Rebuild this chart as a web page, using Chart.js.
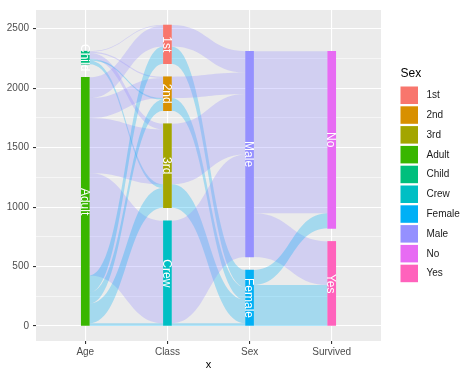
<!DOCTYPE html>
<html>
<head>
<meta charset="utf-8">
<script src="https://cdn.jsdelivr.net/npm/chart.js@4.4.1/dist/chart.umd.min.js"></script>
<style>
  html, body { margin: 0; padding: 0; background: #ffffff; }
</style>
</head>
<body>
<canvas id="myChart" width="474" height="379"></canvas>
<script>
// Axes of the parallel sets, left to right
var axisNames = ["Age", "Class", "Sex", "Survived"];

// Strata of each axis, from top to bottom
var ageLevels = ["Child", "Adult"];
var classLevels = ["1st", "2nd", "3rd", "Crew"];
var sexLevels = ["Male", "Female"];
var survivedLevels = ["No", "Yes"];

// Titanic passenger counts, one value per class (1st, 2nd, 3rd, Crew)
var noChildMale = [0, 0, 35, 0];
var noChildFemale = [0, 0, 17, 0];
var noAdultMale = [118, 154, 387, 670];
var noAdultFemale = [4, 13, 89, 3];
var yesChildMale = [5, 11, 13, 0];
var yesChildFemale = [1, 13, 14, 0];
var yesAdultMale = [57, 14, 75, 192];
var yesAdultFemale = [140, 80, 76, 20];

// y axis tick values
var yTickValues = [0, 250, 500, 750, 1000, 1250, 1500, 1750, 2000, 2250, 2500];

// Legend entries (fill scale), in legend order
var legendLabels = ["1st", "2nd", "3rd", "Adult", "Child", "Crew", "Female", "Male", "No", "Yes"];
var legendColors = ["#F8766D", "#D89000", "#A3A500", "#39B600", "#00BF7D", "#00BFC4", "#00B0F6", "#9590FF", "#E76BF3", "#FF62BC"];

// flow fill by Sex (alpha 0.3)
var flowColors = { Male: "rgba(149,144,255,0.3)", Female: "rgba(0,176,246,0.3)" };

var levelsOf = { Age: ageLevels, Class: classLevels, Sex: sexLevels, Survived: survivedLevels };
var axisWidth = 0.1;

// Build the long table from the small arrays
var countTable = [
  ["No", "Child", "Male", noChildMale],
  ["No", "Child", "Female", noChildFemale],
  ["No", "Adult", "Male", noAdultMale],
  ["No", "Adult", "Female", noAdultFemale],
  ["Yes", "Child", "Male", yesChildMale],
  ["Yes", "Child", "Female", yesChildFemale],
  ["Yes", "Adult", "Male", yesAdultMale],
  ["Yes", "Adult", "Female", yesAdultFemale]
];
var rows = [];
countTable.forEach(function (t) {
  classLevels.forEach(function (c, k) {
    rows.push({ Age: t[1], Class: c, Sex: t[2], Survived: t[0], n: t[3][k] });
  });
});

function sumWhere(test) {
  var s = 0;
  rows.forEach(function (r) { if (test(r)) s += r.n; });
  return s;
}

// Stack strata on each axis, last level at the bottom, 5% gap between strata
var total = sumWhere(function () { return true; });
var sep = 0.05 * total;
var strata = {};
var yTop = 0;
axisNames.forEach(function (a) {
  var y = 0;
  strata[a] = {};
  levelsOf[a].slice().reverse().forEach(function (lev) {
    var n = sumWhere(function (r) { return r[a] === lev; });
    strata[a][lev] = { lo: y, hi: y + n };
    yTop = Math.max(yTop, y + n);
    y += n + sep;
  });
});

// Flows between neighbouring axes, grouped by stratum, fill (Sex) and the other stratum
var flows = [];
function stackSide(groups, axis, other, ownKey, otherKey, posKey) {
  levelsOf[axis].forEach(function (lev) {
    var y = strata[axis][lev].lo;
    sexLevels.slice().reverse().forEach(function (s) {
      levelsOf[other].slice().reverse().forEach(function (o) {
        groups.forEach(function (g) {
          if (g[ownKey] === lev && g.sex === s && g[otherKey] === o) {
            g[posKey] = [y, y + g.n];
            y += g.n;
          }
        });
      });
    });
  });
}
for (var i = 0; i < axisNames.length - 1; i++) {
  var a = axisNames[i], b = axisNames[i + 1];
  var groups = [];
  levelsOf[a].forEach(function (va) {
    sexLevels.forEach(function (s) {
      levelsOf[b].forEach(function (vb) {
        var n = sumWhere(function (r) { return r[a] === va && r.Sex === s && r[b] === vb; });
        groups.push({ from: i, va: va, sex: s, vb: vb, n: n });
      });
    });
  });
  stackSide(groups, a, b, "va", "vb", "ya");
  stackSide(groups, b, a, "vb", "va", "yb");
  flows = flows.concat(groups);
}

// One floating bar dataset per stratum label, so the legend keys come from the data
var datasets = legendLabels.map(function (lab, k) {
  var data = [];
  axisNames.forEach(function (ax, idx) {
    if (strata[ax][lab]) data.push({ x: idx + 1, y: [strata[ax][lab].lo, strata[ax][lab].hi] });
  });
  return {
    label: lab,
    data: data,
    backgroundColor: legendColors[k],
    borderWidth: 0,
    barThickness: 8,
    grouped: false
  };
});

var panelPlugin = {
  id: "panel",
  beforeDraw: function (chart) {
    var ca = chart.chartArea, ctx = chart.ctx;
    ctx.save();
    ctx.fillStyle = "#FFFFFF";
    ctx.fillRect(0, 0, chart.width, chart.height);
    ctx.fillStyle = "#EBEBEB";
    ctx.fillRect(ca.left, ca.top, ca.right - ca.left, ca.bottom - ca.top);
    ctx.restore();
  }
};

var flowPlugin = {
  id: "flows",
  beforeDatasetsDraw: function (chart) {
    var ctx = chart.ctx, xs = chart.scales.x, ys = chart.scales.y, ca = chart.chartArea;
    ctx.save();
    ctx.beginPath();
    ctx.rect(ca.left, ca.top, ca.right - ca.left, ca.bottom - ca.top);
    ctx.clip();
    flows.forEach(function (f) {
      if (f.n === 0) return;
      var x0 = xs.getPixelForValue(f.from + 1 + axisWidth / 2);
      var x1 = xs.getPixelForValue(f.from + 2 - axisWidth / 2);
      var xm = (x0 + x1) / 2;
      var t0 = ys.getPixelForValue(f.ya[1]), b0 = ys.getPixelForValue(f.ya[0]);
      var t1 = ys.getPixelForValue(f.yb[1]), b1 = ys.getPixelForValue(f.yb[0]);
      ctx.fillStyle = flowColors[f.sex];
      ctx.beginPath();
      ctx.moveTo(x0, t0);
      ctx.bezierCurveTo(xm, t0, xm, t1, x1, t1);
      ctx.lineTo(x1, b1);
      ctx.bezierCurveTo(xm, b1, xm, b0, x0, b0);
      ctx.closePath();
      ctx.fill();
    });
    ctx.restore();
  },
  afterDatasetsDraw: function (chart) {
    // white stratum labels, rotated -90 like the original
    var ctx = chart.ctx, xs = chart.scales.x, ys = chart.scales.y;
    ctx.save();
    ctx.fillStyle = "#FFFFFF";
    ctx.font = "12px 'Liberation Sans', Arial, sans-serif";
    ctx.textAlign = "center";
    ctx.textBaseline = "middle";
    axisNames.forEach(function (ax, idx) {
      levelsOf[ax].forEach(function (lev) {
        var s = strata[ax][lev];
        var px = xs.getPixelForValue(idx + 1);
        var py = ys.getPixelForValue((s.lo + s.hi) / 2);
        ctx.save();
        ctx.translate(px, py);
        ctx.rotate(Math.PI / 2);
        ctx.fillText(lev, 0, 1);
        ctx.restore();
      });
    });
    ctx.restore();
  }
};

var legendPlugin = {
  id: "sideLegend",
  afterDraw: function (chart) {
    var ctx = chart.ctx, ca = chart.chartArea;
    var mid = (ca.top + ca.bottom) / 2;
    var x = ca.right + 19.5;
    ctx.save();
    ctx.textAlign = "left";
    ctx.textBaseline = "middle";
    ctx.fillStyle = "#000000";
    ctx.font = "12px 'Liberation Sans', Arial, sans-serif";
    ctx.fillText("Sex", x, mid - 102);
    ctx.font = "10px 'Liberation Sans', Arial, sans-serif";
    chart.data.datasets.forEach(function (ds, k) {
      var top = mid - 89 + k * 19.8;
      ctx.fillStyle = ds.backgroundColor;
      ctx.fillRect(x, top, 17.5, 17.5);
      ctx.fillStyle = "#1A1A1A";
      ctx.fillText(ds.label, x + 26, top + 9);
    });
    ctx.restore();
  }
};

Chart.defaults.font.family = "'Liberation Sans', Arial, sans-serif";

var ctx = document.getElementById("myChart").getContext("2d");
var myChart = new Chart(ctx, {
  type: "bar",
  data: { datasets: datasets },
  plugins: [panelPlugin, flowPlugin, legendPlugin],
  options: {
    responsive: false,
    animation: false,
    events: [],
    layout: { autoPadding: false, padding: { top: 7, right: 93, bottom: 0, left: 0 } },
    plugins: {
      legend: { display: false },
      tooltip: { enabled: false }
    },
    scales: {
      x: {
        type: "linear",
        min: 0.4,
        max: 4.6,
        offset: false,
        afterBuildTicks: function (axis) {
          axis.ticks = axisNames.map(function (n, k) { return { value: k + 1 }; });
        },
        afterFit: function (axis) { axis.height = 38; },
        ticks: {
          autoSkip: false,
          maxRotation: 0,
          padding: 2,
          color: "#4D4D4D",
          font: { size: 10 },
          callback: function (v) { return axisNames[v - 1]; }
        },
        grid: { offset: false, color: "#FFFFFF", lineWidth: 1.1, tickColor: "#333333", tickLength: 3 },
        border: { display: false },
        title: { display: true, text: "x", color: "#000000", font: { size: 11 }, padding: { top: 0, bottom: 7 } }
      },
      y: {
        type: "linear",
        min: -0.05 * yTop,
        max: yTop * 1.05,
        afterBuildTicks: function (axis) {
          axis.ticks = yTickValues.map(function (v) { return { value: v }; });
        },
        afterFit: function (axis) { axis.width = 36; },
        ticks: {
          autoSkip: false,
          padding: 4,
          color: "#4D4D4D",
          font: { size: 10 },
          callback: function (v) { return v % 500 === 0 ? v : ""; }
        },
        grid: {
          color: "#FFFFFF",
          lineWidth: function (c) { return c.tick && c.tick.value % 500 === 0 ? 1.1 : 0.55; },
          tickColor: function (c) { return c.tick && c.tick.value % 500 === 0 ? "#333333" : "rgba(0,0,0,0)"; },
          tickLength: 3
        },
        border: { display: false }
      }
    }
  }
});
</script>
</body>
</html>
